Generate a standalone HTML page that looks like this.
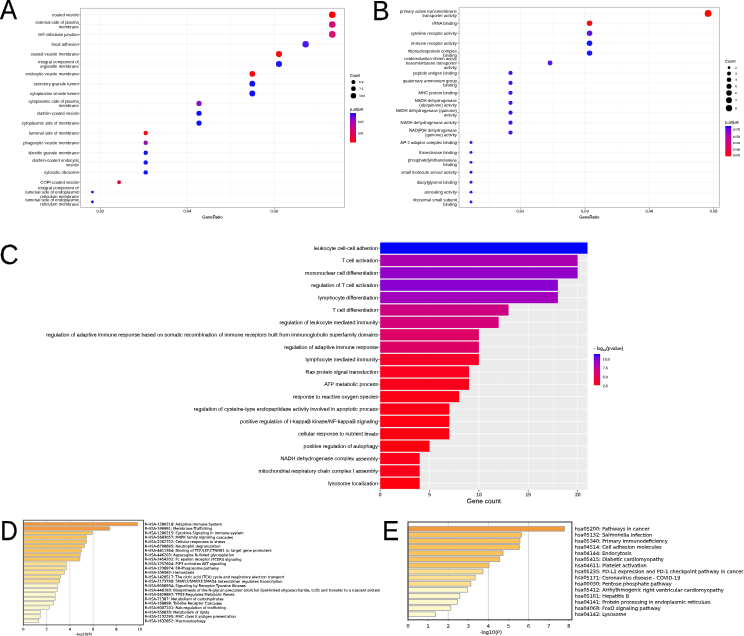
<!DOCTYPE html>
<html lang="en"><head><meta charset="utf-8"><title>Figure</title>
<style>
html,body{margin:0;padding:0;background:#fff}
body{width:744px;height:636px;overflow:hidden}
svg{display:block}
text{text-rendering:geometricPrecision}
text.s{stroke:#111;stroke-width:.1px;fill:#111}
text.l{font-family:"Liberation Sans",Arial,Helvetica,sans-serif}
text.d{font-family:"DejaVu Sans","Liberation Sans",sans-serif}
</style></head><body>
<svg width="744" height="636" viewBox="0 0 744 636">
<defs>
<linearGradient id="gRB" x1="0" y1="0" x2="0" y2="1">
<stop offset="0%" stop-color="#0000ff"/>
<stop offset="10%" stop-color="#6800e7"/>
<stop offset="20%" stop-color="#8d00ce"/>
<stop offset="30%" stop-color="#a600b7"/>
<stop offset="40%" stop-color="#ba009f"/>
<stop offset="50%" stop-color="#ca0088"/>
<stop offset="60%" stop-color="#d70072"/>
<stop offset="70%" stop-color="#e3005b"/>
<stop offset="80%" stop-color="#ed0044"/>
<stop offset="90%" stop-color="#f6002a"/>
<stop offset="100%" stop-color="#ff0000"/>
</linearGradient>
</defs>
<rect width="744" height="636" fill="#fff"/>
<text class="l" transform="translate(-0.10 19.10) scale(1.010 1.095)" font-size="25.20" fill="#000" stroke="#000" stroke-width="0.25">A</text>
<text class="l" transform="translate(372.20 19.50) scale(1.030 1.095)" font-size="25.20" fill="#000" stroke="#000" stroke-width="0.25">B</text>
<text class="l" transform="translate(-0.40 263.70) scale(1.050 1.095)" font-size="25.20" fill="#000" stroke="#000" stroke-width="0.25">C</text>
<text class="l" transform="translate(0.30 539.50) scale(0.965 1.095)" font-size="25.20" fill="#000" stroke="#000" stroke-width="0.25">D</text>
<text class="l" transform="translate(382.30 539.80) scale(1.000 1.095)" font-size="25.20" fill="#000" stroke="#000" stroke-width="0.25">E</text>
<line x1="143.80" y1="8.30" x2="143.80" y2="207.60" stroke="#f0f0f0" stroke-width="0.3"/>
<line x1="230.80" y1="8.30" x2="230.80" y2="207.60" stroke="#f0f0f0" stroke-width="0.3"/>
<line x1="317.80" y1="8.30" x2="317.80" y2="207.60" stroke="#f0f0f0" stroke-width="0.3"/>
<line x1="80.40" y1="14.70" x2="344.50" y2="14.70" stroke="#ebebeb" stroke-width="0.4"/>
<line x1="80.40" y1="24.55" x2="344.50" y2="24.55" stroke="#ebebeb" stroke-width="0.4"/>
<line x1="80.40" y1="34.41" x2="344.50" y2="34.41" stroke="#ebebeb" stroke-width="0.4"/>
<line x1="80.40" y1="44.27" x2="344.50" y2="44.27" stroke="#ebebeb" stroke-width="0.4"/>
<line x1="80.40" y1="54.12" x2="344.50" y2="54.12" stroke="#ebebeb" stroke-width="0.4"/>
<line x1="80.40" y1="63.98" x2="344.50" y2="63.98" stroke="#ebebeb" stroke-width="0.4"/>
<line x1="80.40" y1="73.83" x2="344.50" y2="73.83" stroke="#ebebeb" stroke-width="0.4"/>
<line x1="80.40" y1="83.69" x2="344.50" y2="83.69" stroke="#ebebeb" stroke-width="0.4"/>
<line x1="80.40" y1="93.54" x2="344.50" y2="93.54" stroke="#ebebeb" stroke-width="0.4"/>
<line x1="80.40" y1="103.40" x2="344.50" y2="103.40" stroke="#ebebeb" stroke-width="0.4"/>
<line x1="80.40" y1="113.25" x2="344.50" y2="113.25" stroke="#ebebeb" stroke-width="0.4"/>
<line x1="80.40" y1="123.11" x2="344.50" y2="123.11" stroke="#ebebeb" stroke-width="0.4"/>
<line x1="80.40" y1="132.96" x2="344.50" y2="132.96" stroke="#ebebeb" stroke-width="0.4"/>
<line x1="80.40" y1="142.81" x2="344.50" y2="142.81" stroke="#ebebeb" stroke-width="0.4"/>
<line x1="80.40" y1="152.67" x2="344.50" y2="152.67" stroke="#ebebeb" stroke-width="0.4"/>
<line x1="80.40" y1="162.53" x2="344.50" y2="162.53" stroke="#ebebeb" stroke-width="0.4"/>
<line x1="80.40" y1="172.38" x2="344.50" y2="172.38" stroke="#ebebeb" stroke-width="0.4"/>
<line x1="80.40" y1="182.23" x2="344.50" y2="182.23" stroke="#ebebeb" stroke-width="0.4"/>
<line x1="80.40" y1="192.09" x2="344.50" y2="192.09" stroke="#ebebeb" stroke-width="0.4"/>
<line x1="80.40" y1="201.94" x2="344.50" y2="201.94" stroke="#ebebeb" stroke-width="0.4"/>
<line x1="100.30" y1="8.30" x2="100.30" y2="207.60" stroke="#ebebeb" stroke-width="0.4"/>
<line x1="187.30" y1="8.30" x2="187.30" y2="207.60" stroke="#ebebeb" stroke-width="0.4"/>
<line x1="274.30" y1="8.30" x2="274.30" y2="207.60" stroke="#ebebeb" stroke-width="0.4"/>
<circle cx="332.30" cy="14.70" r="3.30" fill="#ff0000"/>
<circle cx="332.30" cy="24.55" r="3.30" fill="#cf1078"/>
<circle cx="332.30" cy="34.41" r="3.30" fill="#d41070"/>
<circle cx="305.64" cy="44.27" r="3.18" fill="#4a14ec"/>
<circle cx="278.99" cy="54.12" r="3.06" fill="#f80808"/>
<circle cx="278.99" cy="63.98" r="3.06" fill="#1818f8"/>
<circle cx="252.33" cy="73.83" r="2.92" fill="#f40814"/>
<circle cx="252.33" cy="83.69" r="2.92" fill="#1010fa"/>
<circle cx="252.33" cy="93.54" r="2.92" fill="#1010fa"/>
<circle cx="199.02" cy="103.40" r="2.61" fill="#8a10c0"/>
<circle cx="199.02" cy="113.25" r="2.61" fill="#1010fa"/>
<circle cx="199.02" cy="123.11" r="2.61" fill="#1010fa"/>
<circle cx="145.71" cy="132.96" r="2.21" fill="#f60810"/>
<circle cx="145.71" cy="142.81" r="2.21" fill="#9a10a8"/>
<circle cx="145.71" cy="152.67" r="2.21" fill="#1414fa"/>
<circle cx="145.71" cy="162.53" r="2.21" fill="#1c14f6"/>
<circle cx="145.71" cy="172.38" r="2.21" fill="#1010fa"/>
<circle cx="119.06" cy="182.23" r="1.92" fill="#e0083c"/>
<circle cx="92.40" cy="192.09" r="1.40" fill="#1010fa"/>
<circle cx="92.40" cy="201.94" r="1.40" fill="#1010fa"/>
<rect x="80.40" y="8.30" width="264.10" height="199.30" fill="none" stroke="#b4b4b4" stroke-width="0.75"/>
<line x1="78.80" y1="14.70" x2="80.40" y2="14.70" stroke="#333" stroke-width="0.4"/>
<text class="l" transform="translate(78.80 16.18) rotate(0.03)" font-size="4.24" text-anchor="end" fill="#1c1c1c" stroke="#1c1c1c" stroke-width="0.05">coated vesicle</text>
<line x1="78.80" y1="24.55" x2="80.40" y2="24.55" stroke="#333" stroke-width="0.4"/>
<text class="l" transform="translate(78.80 23.84) rotate(0.03)" font-size="4.24" text-anchor="end" fill="#1c1c1c" stroke="#1c1c1c" stroke-width="0.05">external side of plasma</text>
<text class="l" transform="translate(78.80 28.24) rotate(0.03)" font-size="4.24" text-anchor="end" fill="#1c1c1c" stroke="#1c1c1c" stroke-width="0.05">membrane</text>
<line x1="78.80" y1="34.41" x2="80.40" y2="34.41" stroke="#333" stroke-width="0.4"/>
<text class="l" transform="translate(78.80 35.89) rotate(0.03)" font-size="4.24" text-anchor="end" fill="#1c1c1c" stroke="#1c1c1c" stroke-width="0.05">cell-substrate junction</text>
<line x1="78.80" y1="44.27" x2="80.40" y2="44.27" stroke="#333" stroke-width="0.4"/>
<text class="l" transform="translate(78.80 45.75) rotate(0.03)" font-size="4.24" text-anchor="end" fill="#1c1c1c" stroke="#1c1c1c" stroke-width="0.05">focal adhesion</text>
<line x1="78.80" y1="54.12" x2="80.40" y2="54.12" stroke="#333" stroke-width="0.4"/>
<text class="l" transform="translate(78.80 55.60) rotate(0.03)" font-size="4.24" text-anchor="end" fill="#1c1c1c" stroke="#1c1c1c" stroke-width="0.05">coated vesicle membrane</text>
<line x1="78.80" y1="63.98" x2="80.40" y2="63.98" stroke="#333" stroke-width="0.4"/>
<text class="l" transform="translate(78.80 63.26) rotate(0.03)" font-size="4.24" text-anchor="end" fill="#1c1c1c" stroke="#1c1c1c" stroke-width="0.05">integral component of</text>
<text class="l" transform="translate(78.80 67.66) rotate(0.03)" font-size="4.24" text-anchor="end" fill="#1c1c1c" stroke="#1c1c1c" stroke-width="0.05">organelle membrane</text>
<line x1="78.80" y1="73.83" x2="80.40" y2="73.83" stroke="#333" stroke-width="0.4"/>
<text class="l" transform="translate(78.80 75.31) rotate(0.03)" font-size="4.24" text-anchor="end" fill="#1c1c1c" stroke="#1c1c1c" stroke-width="0.05">endocytic vesicle membrane</text>
<line x1="78.80" y1="83.69" x2="80.40" y2="83.69" stroke="#333" stroke-width="0.4"/>
<text class="l" transform="translate(78.80 85.17) rotate(0.03)" font-size="4.24" text-anchor="end" fill="#1c1c1c" stroke="#1c1c1c" stroke-width="0.05">secretory granule lumen</text>
<line x1="78.80" y1="93.54" x2="80.40" y2="93.54" stroke="#333" stroke-width="0.4"/>
<text class="l" transform="translate(78.80 95.02) rotate(0.03)" font-size="4.24" text-anchor="end" fill="#1c1c1c" stroke="#1c1c1c" stroke-width="0.05">cytoplasmic vesicle lumen</text>
<line x1="78.80" y1="103.40" x2="80.40" y2="103.40" stroke="#333" stroke-width="0.4"/>
<text class="l" transform="translate(78.80 102.68) rotate(0.03)" font-size="4.24" text-anchor="end" fill="#1c1c1c" stroke="#1c1c1c" stroke-width="0.05">cytoplasmic side of plasma</text>
<text class="l" transform="translate(78.80 107.08) rotate(0.03)" font-size="4.24" text-anchor="end" fill="#1c1c1c" stroke="#1c1c1c" stroke-width="0.05">membrane</text>
<line x1="78.80" y1="113.25" x2="80.40" y2="113.25" stroke="#333" stroke-width="0.4"/>
<text class="l" transform="translate(78.80 114.73) rotate(0.03)" font-size="4.24" text-anchor="end" fill="#1c1c1c" stroke="#1c1c1c" stroke-width="0.05">clathrin-coated vesicle</text>
<line x1="78.80" y1="123.11" x2="80.40" y2="123.11" stroke="#333" stroke-width="0.4"/>
<text class="l" transform="translate(78.80 124.59) rotate(0.03)" font-size="4.24" text-anchor="end" fill="#1c1c1c" stroke="#1c1c1c" stroke-width="0.05">cytoplasmic side of membrane</text>
<line x1="78.80" y1="132.96" x2="80.40" y2="132.96" stroke="#333" stroke-width="0.4"/>
<text class="l" transform="translate(78.80 134.44) rotate(0.03)" font-size="4.24" text-anchor="end" fill="#1c1c1c" stroke="#1c1c1c" stroke-width="0.05">lumenal side of membrane</text>
<line x1="78.80" y1="142.81" x2="80.40" y2="142.81" stroke="#333" stroke-width="0.4"/>
<text class="l" transform="translate(78.80 144.30) rotate(0.03)" font-size="4.24" text-anchor="end" fill="#1c1c1c" stroke="#1c1c1c" stroke-width="0.05">phagocytic vesicle membrane</text>
<line x1="78.80" y1="152.67" x2="80.40" y2="152.67" stroke="#333" stroke-width="0.4"/>
<text class="l" transform="translate(78.80 154.15) rotate(0.03)" font-size="4.24" text-anchor="end" fill="#1c1c1c" stroke="#1c1c1c" stroke-width="0.05">specific granule membrane</text>
<line x1="78.80" y1="162.53" x2="80.40" y2="162.53" stroke="#333" stroke-width="0.4"/>
<text class="l" transform="translate(78.80 161.81) rotate(0.03)" font-size="4.24" text-anchor="end" fill="#1c1c1c" stroke="#1c1c1c" stroke-width="0.05">clathrin-coated endocytic</text>
<text class="l" transform="translate(78.80 166.21) rotate(0.03)" font-size="4.24" text-anchor="end" fill="#1c1c1c" stroke="#1c1c1c" stroke-width="0.05">vesicle</text>
<line x1="78.80" y1="172.38" x2="80.40" y2="172.38" stroke="#333" stroke-width="0.4"/>
<text class="l" transform="translate(78.80 173.86) rotate(0.03)" font-size="4.24" text-anchor="end" fill="#1c1c1c" stroke="#1c1c1c" stroke-width="0.05">cytosolic ribosome</text>
<line x1="78.80" y1="182.23" x2="80.40" y2="182.23" stroke="#333" stroke-width="0.4"/>
<text class="l" transform="translate(78.80 183.72) rotate(0.03)" font-size="4.24" text-anchor="end" fill="#1c1c1c" stroke="#1c1c1c" stroke-width="0.05">COPI-coated vesicle</text>
<line x1="78.80" y1="192.09" x2="80.40" y2="192.09" stroke="#333" stroke-width="0.4"/>
<text class="l" transform="translate(78.80 189.17) rotate(0.03)" font-size="4.24" text-anchor="end" fill="#1c1c1c" stroke="#1c1c1c" stroke-width="0.05">integral component of</text>
<text class="l" transform="translate(78.80 193.57) rotate(0.03)" font-size="4.24" text-anchor="end" fill="#1c1c1c" stroke="#1c1c1c" stroke-width="0.05">lumenal side of endoplasmic</text>
<text class="l" transform="translate(78.80 197.97) rotate(0.03)" font-size="4.24" text-anchor="end" fill="#1c1c1c" stroke="#1c1c1c" stroke-width="0.05">reticulum membrane</text>
<line x1="78.80" y1="201.94" x2="80.40" y2="201.94" stroke="#333" stroke-width="0.4"/>
<text class="l" transform="translate(78.80 201.23) rotate(0.03)" font-size="4.24" text-anchor="end" fill="#1c1c1c" stroke="#1c1c1c" stroke-width="0.05">lumenal side of endoplasmic</text>
<text class="l" transform="translate(78.80 205.63) rotate(0.03)" font-size="4.24" text-anchor="end" fill="#1c1c1c" stroke="#1c1c1c" stroke-width="0.05">reticulum membrane</text>
<line x1="100.30" y1="207.60" x2="100.30" y2="209.20" stroke="#333" stroke-width="0.4"/>
<text class="l" transform="translate(100.30 212.50) rotate(0.03)" font-size="3.90" text-anchor="middle" fill="#333" stroke="#333" stroke-width="0.10">0.02</text>
<line x1="187.30" y1="207.60" x2="187.30" y2="209.20" stroke="#333" stroke-width="0.4"/>
<text class="l" transform="translate(187.30 212.50) rotate(0.03)" font-size="3.90" text-anchor="middle" fill="#333" stroke="#333" stroke-width="0.10">0.04</text>
<line x1="274.30" y1="207.60" x2="274.30" y2="209.20" stroke="#333" stroke-width="0.4"/>
<text class="l" transform="translate(274.30 212.50) rotate(0.03)" font-size="3.90" text-anchor="middle" fill="#333" stroke="#333" stroke-width="0.10">0.06</text>
<text class="l" transform="translate(212.45 218.40) rotate(0.03)" font-size="4.24" text-anchor="middle" fill="#111" stroke="#111" stroke-width="0.10">GeneRatio</text>
<text class="l" transform="translate(350.00 76.70) rotate(0.03)" font-size="3.80" text-anchor="start" fill="#111" stroke="#111" stroke-width="0.10">Count</text>
<circle cx="353.4" cy="82.10" r="2.06" fill="#000"/>
<text class="l" transform="translate(359.30 83.10) rotate(0.03)" font-size="2.85" text-anchor="start" fill="#222" stroke="#222" stroke-width="0.10">5.0</text>
<circle cx="353.4" cy="88.70" r="2.37" fill="#000"/>
<text class="l" transform="translate(359.30 89.70) rotate(0.03)" font-size="2.85" text-anchor="start" fill="#222" stroke="#222" stroke-width="0.10">7.5</text>
<circle cx="353.4" cy="95.70" r="2.75" fill="#000"/>
<text class="l" transform="translate(359.30 96.70) rotate(0.03)" font-size="2.85" text-anchor="start" fill="#222" stroke="#222" stroke-width="0.10">10.0</text>
<text class="l" transform="translate(350.00 110.40) rotate(0.03)" font-size="3.80" text-anchor="start" fill="#111" stroke="#111" stroke-width="0.10">p.adjust</text>
<rect x="350" y="113.1" width="6" height="29.4" fill="url(#gRB)"/>
<text class="l" transform="translate(358.00 122.80) rotate(0.03)" font-size="2.85" text-anchor="start" fill="#222" stroke="#222" stroke-width="0.10">0.02</text>
<text class="l" transform="translate(358.00 134.20) rotate(0.03)" font-size="2.85" text-anchor="start" fill="#222" stroke="#222" stroke-width="0.10">0.01</text>
<line x1="488.40" y1="7.30" x2="488.40" y2="207.60" stroke="#f0f0f0" stroke-width="0.3"/>
<line x1="552.80" y1="7.30" x2="552.80" y2="207.60" stroke="#f0f0f0" stroke-width="0.3"/>
<line x1="617.20" y1="7.30" x2="617.20" y2="207.60" stroke="#f0f0f0" stroke-width="0.3"/>
<line x1="681.60" y1="7.30" x2="681.60" y2="207.60" stroke="#f0f0f0" stroke-width="0.3"/>
<line x1="459.10" y1="13.40" x2="719.40" y2="13.40" stroke="#ebebeb" stroke-width="0.4"/>
<line x1="459.10" y1="23.33" x2="719.40" y2="23.33" stroke="#ebebeb" stroke-width="0.4"/>
<line x1="459.10" y1="33.26" x2="719.40" y2="33.26" stroke="#ebebeb" stroke-width="0.4"/>
<line x1="459.10" y1="43.19" x2="719.40" y2="43.19" stroke="#ebebeb" stroke-width="0.4"/>
<line x1="459.10" y1="53.12" x2="719.40" y2="53.12" stroke="#ebebeb" stroke-width="0.4"/>
<line x1="459.10" y1="63.05" x2="719.40" y2="63.05" stroke="#ebebeb" stroke-width="0.4"/>
<line x1="459.10" y1="72.98" x2="719.40" y2="72.98" stroke="#ebebeb" stroke-width="0.4"/>
<line x1="459.10" y1="82.91" x2="719.40" y2="82.91" stroke="#ebebeb" stroke-width="0.4"/>
<line x1="459.10" y1="92.84" x2="719.40" y2="92.84" stroke="#ebebeb" stroke-width="0.4"/>
<line x1="459.10" y1="102.77" x2="719.40" y2="102.77" stroke="#ebebeb" stroke-width="0.4"/>
<line x1="459.10" y1="112.70" x2="719.40" y2="112.70" stroke="#ebebeb" stroke-width="0.4"/>
<line x1="459.10" y1="122.63" x2="719.40" y2="122.63" stroke="#ebebeb" stroke-width="0.4"/>
<line x1="459.10" y1="132.56" x2="719.40" y2="132.56" stroke="#ebebeb" stroke-width="0.4"/>
<line x1="459.10" y1="142.49" x2="719.40" y2="142.49" stroke="#ebebeb" stroke-width="0.4"/>
<line x1="459.10" y1="152.42" x2="719.40" y2="152.42" stroke="#ebebeb" stroke-width="0.4"/>
<line x1="459.10" y1="162.35" x2="719.40" y2="162.35" stroke="#ebebeb" stroke-width="0.4"/>
<line x1="459.10" y1="172.28" x2="719.40" y2="172.28" stroke="#ebebeb" stroke-width="0.4"/>
<line x1="459.10" y1="182.21" x2="719.40" y2="182.21" stroke="#ebebeb" stroke-width="0.4"/>
<line x1="459.10" y1="192.14" x2="719.40" y2="192.14" stroke="#ebebeb" stroke-width="0.4"/>
<line x1="459.10" y1="202.07" x2="719.40" y2="202.07" stroke="#ebebeb" stroke-width="0.4"/>
<line x1="520.40" y1="7.30" x2="520.40" y2="207.60" stroke="#ebebeb" stroke-width="0.4"/>
<line x1="584.80" y1="7.30" x2="584.80" y2="207.60" stroke="#ebebeb" stroke-width="0.4"/>
<line x1="649.20" y1="7.30" x2="649.20" y2="207.60" stroke="#ebebeb" stroke-width="0.4"/>
<line x1="713.60" y1="7.30" x2="713.60" y2="207.60" stroke="#ebebeb" stroke-width="0.4"/>
<circle cx="708.07" cy="13.40" r="3.35" fill="#fa0808"/>
<circle cx="589.55" cy="23.33" r="2.74" fill="#f40a10"/>
<circle cx="589.55" cy="33.26" r="2.74" fill="#5c16dc"/>
<circle cx="589.55" cy="43.19" r="2.74" fill="#1414f8"/>
<circle cx="589.55" cy="53.12" r="2.74" fill="#1818f6"/>
<circle cx="550.04" cy="63.05" r="2.47" fill="#5a14dc"/>
<circle cx="510.53" cy="72.98" r="2.11" fill="#4c10e4"/>
<circle cx="510.53" cy="82.91" r="2.11" fill="#4c10e4"/>
<circle cx="510.53" cy="92.84" r="2.11" fill="#4c10e4"/>
<circle cx="510.53" cy="102.77" r="2.11" fill="#4c10e4"/>
<circle cx="510.53" cy="112.70" r="2.11" fill="#4c10e4"/>
<circle cx="510.53" cy="122.63" r="2.11" fill="#4c10e4"/>
<circle cx="510.53" cy="132.56" r="2.11" fill="#4c10e4"/>
<circle cx="471.02" cy="142.49" r="1.45" fill="#3c10ec"/>
<circle cx="471.02" cy="152.42" r="1.45" fill="#3c10ec"/>
<circle cx="471.02" cy="162.35" r="1.45" fill="#3c10ec"/>
<circle cx="471.02" cy="172.28" r="1.45" fill="#3c10ec"/>
<circle cx="471.02" cy="182.21" r="1.45" fill="#3c10ec"/>
<circle cx="471.02" cy="192.14" r="1.45" fill="#3c10ec"/>
<circle cx="471.02" cy="202.07" r="1.45" fill="#3c10ec"/>
<rect x="459.10" y="7.30" width="260.30" height="200.30" fill="none" stroke="#b4b4b4" stroke-width="0.75"/>
<line x1="457.50" y1="13.40" x2="459.10" y2="13.40" stroke="#333" stroke-width="0.4"/>
<text class="l" transform="translate(456.90 12.68) rotate(0.03)" font-size="4.24" text-anchor="end" fill="#1c1c1c" stroke="#1c1c1c" stroke-width="0.05">primary active transmembrane</text>
<text class="l" transform="translate(456.90 17.08) rotate(0.03)" font-size="4.24" text-anchor="end" fill="#1c1c1c" stroke="#1c1c1c" stroke-width="0.05">transporter activity</text>
<line x1="457.50" y1="23.33" x2="459.10" y2="23.33" stroke="#333" stroke-width="0.4"/>
<text class="l" transform="translate(456.90 24.81) rotate(0.03)" font-size="4.24" text-anchor="end" fill="#1c1c1c" stroke="#1c1c1c" stroke-width="0.05">rRNA binding</text>
<line x1="457.50" y1="33.26" x2="459.10" y2="33.26" stroke="#333" stroke-width="0.4"/>
<text class="l" transform="translate(456.90 34.74) rotate(0.03)" font-size="4.24" text-anchor="end" fill="#1c1c1c" stroke="#1c1c1c" stroke-width="0.05">cytokine receptor activity</text>
<line x1="457.50" y1="43.19" x2="459.10" y2="43.19" stroke="#333" stroke-width="0.4"/>
<text class="l" transform="translate(456.90 44.67) rotate(0.03)" font-size="4.24" text-anchor="end" fill="#1c1c1c" stroke="#1c1c1c" stroke-width="0.05">immune receptor activity</text>
<line x1="457.50" y1="53.12" x2="459.10" y2="53.12" stroke="#333" stroke-width="0.4"/>
<text class="l" transform="translate(456.90 52.40) rotate(0.03)" font-size="4.24" text-anchor="end" fill="#1c1c1c" stroke="#1c1c1c" stroke-width="0.05">ribonucleoprotein complex</text>
<text class="l" transform="translate(456.90 56.80) rotate(0.03)" font-size="4.24" text-anchor="end" fill="#1c1c1c" stroke="#1c1c1c" stroke-width="0.05">binding</text>
<line x1="457.50" y1="63.05" x2="459.10" y2="63.05" stroke="#333" stroke-width="0.4"/>
<text class="l" transform="translate(456.90 60.13) rotate(0.03)" font-size="4.24" text-anchor="end" fill="#1c1c1c" stroke="#1c1c1c" stroke-width="0.05">oxidoreduction-driven active</text>
<text class="l" transform="translate(456.90 64.53) rotate(0.03)" font-size="4.24" text-anchor="end" fill="#1c1c1c" stroke="#1c1c1c" stroke-width="0.05">transmembrane transporter</text>
<text class="l" transform="translate(456.90 68.93) rotate(0.03)" font-size="4.24" text-anchor="end" fill="#1c1c1c" stroke="#1c1c1c" stroke-width="0.05">activity</text>
<line x1="457.50" y1="72.98" x2="459.10" y2="72.98" stroke="#333" stroke-width="0.4"/>
<text class="l" transform="translate(456.90 74.46) rotate(0.03)" font-size="4.24" text-anchor="end" fill="#1c1c1c" stroke="#1c1c1c" stroke-width="0.05">peptide antigen binding</text>
<line x1="457.50" y1="82.91" x2="459.10" y2="82.91" stroke="#333" stroke-width="0.4"/>
<text class="l" transform="translate(456.90 82.19) rotate(0.03)" font-size="4.24" text-anchor="end" fill="#1c1c1c" stroke="#1c1c1c" stroke-width="0.05">quaternary ammonium group</text>
<text class="l" transform="translate(456.90 86.59) rotate(0.03)" font-size="4.24" text-anchor="end" fill="#1c1c1c" stroke="#1c1c1c" stroke-width="0.05">binding</text>
<line x1="457.50" y1="92.84" x2="459.10" y2="92.84" stroke="#333" stroke-width="0.4"/>
<text class="l" transform="translate(456.90 94.32) rotate(0.03)" font-size="4.24" text-anchor="end" fill="#1c1c1c" stroke="#1c1c1c" stroke-width="0.05">MHC protein binding</text>
<line x1="457.50" y1="102.77" x2="459.10" y2="102.77" stroke="#333" stroke-width="0.4"/>
<text class="l" transform="translate(456.90 102.05) rotate(0.03)" font-size="4.24" text-anchor="end" fill="#1c1c1c" stroke="#1c1c1c" stroke-width="0.05">NADH dehydrogenase</text>
<text class="l" transform="translate(456.90 106.45) rotate(0.03)" font-size="4.24" text-anchor="end" fill="#1c1c1c" stroke="#1c1c1c" stroke-width="0.05">(ubiquinone) activity</text>
<line x1="457.50" y1="112.70" x2="459.10" y2="112.70" stroke="#333" stroke-width="0.4"/>
<text class="l" transform="translate(456.90 111.98) rotate(0.03)" font-size="4.24" text-anchor="end" fill="#1c1c1c" stroke="#1c1c1c" stroke-width="0.05">NADH dehydrogenase (quinone)</text>
<text class="l" transform="translate(456.90 116.38) rotate(0.03)" font-size="4.24" text-anchor="end" fill="#1c1c1c" stroke="#1c1c1c" stroke-width="0.05">activity</text>
<line x1="457.50" y1="122.63" x2="459.10" y2="122.63" stroke="#333" stroke-width="0.4"/>
<text class="l" transform="translate(456.90 124.11) rotate(0.03)" font-size="4.24" text-anchor="end" fill="#1c1c1c" stroke="#1c1c1c" stroke-width="0.05">NADH dehydrogenase activity</text>
<line x1="457.50" y1="132.56" x2="459.10" y2="132.56" stroke="#333" stroke-width="0.4"/>
<text class="l" transform="translate(456.90 131.84) rotate(0.03)" font-size="4.24" text-anchor="end" fill="#1c1c1c" stroke="#1c1c1c" stroke-width="0.05">NAD(P)H dehydrogenase</text>
<text class="l" transform="translate(456.90 136.24) rotate(0.03)" font-size="4.24" text-anchor="end" fill="#1c1c1c" stroke="#1c1c1c" stroke-width="0.05">(quinone) activity</text>
<line x1="457.50" y1="142.49" x2="459.10" y2="142.49" stroke="#333" stroke-width="0.4"/>
<text class="l" transform="translate(456.90 143.97) rotate(0.03)" font-size="4.24" text-anchor="end" fill="#1c1c1c" stroke="#1c1c1c" stroke-width="0.05">AP-2 adaptor complex binding</text>
<line x1="457.50" y1="152.42" x2="459.10" y2="152.42" stroke="#333" stroke-width="0.4"/>
<text class="l" transform="translate(456.90 153.90) rotate(0.03)" font-size="4.24" text-anchor="end" fill="#1c1c1c" stroke="#1c1c1c" stroke-width="0.05">thioesterase binding</text>
<line x1="457.50" y1="162.35" x2="459.10" y2="162.35" stroke="#333" stroke-width="0.4"/>
<text class="l" transform="translate(456.90 161.63) rotate(0.03)" font-size="4.24" text-anchor="end" fill="#1c1c1c" stroke="#1c1c1c" stroke-width="0.05">phosphatidylethanolamine</text>
<text class="l" transform="translate(456.90 166.03) rotate(0.03)" font-size="4.24" text-anchor="end" fill="#1c1c1c" stroke="#1c1c1c" stroke-width="0.05">binding</text>
<line x1="457.50" y1="172.28" x2="459.10" y2="172.28" stroke="#333" stroke-width="0.4"/>
<text class="l" transform="translate(456.90 173.76) rotate(0.03)" font-size="4.24" text-anchor="end" fill="#1c1c1c" stroke="#1c1c1c" stroke-width="0.05">small molecule sensor activity</text>
<line x1="457.50" y1="182.21" x2="459.10" y2="182.21" stroke="#333" stroke-width="0.4"/>
<text class="l" transform="translate(456.90 183.69) rotate(0.03)" font-size="4.24" text-anchor="end" fill="#1c1c1c" stroke="#1c1c1c" stroke-width="0.05">diacylglycerol binding</text>
<line x1="457.50" y1="192.14" x2="459.10" y2="192.14" stroke="#333" stroke-width="0.4"/>
<text class="l" transform="translate(456.90 193.62) rotate(0.03)" font-size="4.24" text-anchor="end" fill="#1c1c1c" stroke="#1c1c1c" stroke-width="0.05">annealing activity</text>
<line x1="457.50" y1="202.07" x2="459.10" y2="202.07" stroke="#333" stroke-width="0.4"/>
<text class="l" transform="translate(456.90 201.35) rotate(0.03)" font-size="4.24" text-anchor="end" fill="#1c1c1c" stroke="#1c1c1c" stroke-width="0.05">ribosomal small subunit</text>
<text class="l" transform="translate(456.90 205.75) rotate(0.03)" font-size="4.24" text-anchor="end" fill="#1c1c1c" stroke="#1c1c1c" stroke-width="0.05">binding</text>
<line x1="520.40" y1="207.60" x2="520.40" y2="209.20" stroke="#333" stroke-width="0.4"/>
<text class="l" transform="translate(520.40 212.50) rotate(0.03)" font-size="3.90" text-anchor="middle" fill="#333" stroke="#333" stroke-width="0.10">0.02</text>
<line x1="584.80" y1="207.60" x2="584.80" y2="209.20" stroke="#333" stroke-width="0.4"/>
<text class="l" transform="translate(584.80 212.50) rotate(0.03)" font-size="3.90" text-anchor="middle" fill="#333" stroke="#333" stroke-width="0.10">0.03</text>
<line x1="649.20" y1="207.60" x2="649.20" y2="209.20" stroke="#333" stroke-width="0.4"/>
<text class="l" transform="translate(649.20 212.50) rotate(0.03)" font-size="3.90" text-anchor="middle" fill="#333" stroke="#333" stroke-width="0.10">0.04</text>
<line x1="713.60" y1="207.60" x2="713.60" y2="209.20" stroke="#333" stroke-width="0.4"/>
<text class="l" transform="translate(713.60 212.50) rotate(0.03)" font-size="3.90" text-anchor="middle" fill="#333" stroke="#333" stroke-width="0.10">0.05</text>
<text class="l" transform="translate(589.25 218.40) rotate(0.03)" font-size="4.24" text-anchor="middle" fill="#111" stroke="#111" stroke-width="0.10">GeneRatio</text>
<text class="l" transform="translate(725.30 62.50) rotate(0.03)" font-size="3.80" text-anchor="start" fill="#111" stroke="#111" stroke-width="0.10">Count</text>
<circle cx="729" cy="67.70" r="1.35" fill="#000"/>
<text class="l" transform="translate(735.20 68.65) rotate(0.03)" font-size="2.80" text-anchor="start" fill="#222" stroke="#222" stroke-width="0.10">2</text>
<circle cx="729" cy="73.50" r="1.96" fill="#000"/>
<text class="l" transform="translate(735.20 74.45) rotate(0.03)" font-size="2.80" text-anchor="start" fill="#222" stroke="#222" stroke-width="0.10">3</text>
<circle cx="729" cy="79.80" r="2.29" fill="#000"/>
<text class="l" transform="translate(735.20 80.75) rotate(0.03)" font-size="2.80" text-anchor="start" fill="#222" stroke="#222" stroke-width="0.10">4</text>
<circle cx="729" cy="86.20" r="2.55" fill="#000"/>
<text class="l" transform="translate(735.20 87.15) rotate(0.03)" font-size="2.80" text-anchor="start" fill="#222" stroke="#222" stroke-width="0.10">5</text>
<circle cx="729" cy="93.00" r="2.76" fill="#000"/>
<text class="l" transform="translate(735.20 93.95) rotate(0.03)" font-size="2.80" text-anchor="start" fill="#222" stroke="#222" stroke-width="0.10">6</text>
<circle cx="729" cy="100.30" r="2.95" fill="#000"/>
<text class="l" transform="translate(735.20 101.25) rotate(0.03)" font-size="2.80" text-anchor="start" fill="#222" stroke="#222" stroke-width="0.10">7</text>
<circle cx="729" cy="108.20" r="3.12" fill="#000"/>
<text class="l" transform="translate(735.20 109.15) rotate(0.03)" font-size="2.80" text-anchor="start" fill="#222" stroke="#222" stroke-width="0.10">8</text>
<text class="l" transform="translate(725.30 123.60) rotate(0.03)" font-size="3.80" text-anchor="start" fill="#111" stroke="#111" stroke-width="0.10">p.adjust</text>
<rect x="725.3" y="126" width="5.9" height="30.3" fill="url(#gRB)"/>
<text class="l" transform="translate(733.00 130.55) rotate(0.03)" font-size="2.80" text-anchor="start" fill="#222" stroke="#222" stroke-width="0.10">0.175</text>
<text class="l" transform="translate(733.00 137.75) rotate(0.03)" font-size="2.80" text-anchor="start" fill="#222" stroke="#222" stroke-width="0.10">0.150</text>
<text class="l" transform="translate(733.00 144.05) rotate(0.03)" font-size="2.80" text-anchor="start" fill="#222" stroke="#222" stroke-width="0.10">0.125</text>
<text class="l" transform="translate(733.00 150.45) rotate(0.03)" font-size="2.80" text-anchor="start" fill="#222" stroke="#222" stroke-width="0.10">0.100</text>
<text class="l" transform="translate(733.00 156.35) rotate(0.03)" font-size="2.80" text-anchor="start" fill="#222" stroke="#222" stroke-width="0.10">0.075</text>
<rect x="380.20" y="241.00" width="207.30" height="248.80" fill="#ebebeb"/>
<line x1="404.88" y1="241.00" x2="404.88" y2="489.80" stroke="#f5f5f5" stroke-width="0.35"/>
<line x1="454.24" y1="241.00" x2="454.24" y2="489.80" stroke="#f5f5f5" stroke-width="0.35"/>
<line x1="503.59" y1="241.00" x2="503.59" y2="489.80" stroke="#f5f5f5" stroke-width="0.35"/>
<line x1="552.95" y1="241.00" x2="552.95" y2="489.80" stroke="#f5f5f5" stroke-width="0.35"/>
<line x1="429.56" y1="241.00" x2="429.56" y2="489.80" stroke="#fff" stroke-width="0.6"/>
<line x1="478.91" y1="241.00" x2="478.91" y2="489.80" stroke="#fff" stroke-width="0.6"/>
<line x1="528.27" y1="241.00" x2="528.27" y2="489.80" stroke="#fff" stroke-width="0.6"/>
<line x1="577.63" y1="241.00" x2="577.63" y2="489.80" stroke="#fff" stroke-width="0.6"/>
<line x1="380.20" y1="248.10" x2="587.50" y2="248.10" stroke="#fff" stroke-width="0.6"/>
<line x1="380.20" y1="260.48" x2="587.50" y2="260.48" stroke="#fff" stroke-width="0.6"/>
<line x1="380.20" y1="272.86" x2="587.50" y2="272.86" stroke="#fff" stroke-width="0.6"/>
<line x1="380.20" y1="285.24" x2="587.50" y2="285.24" stroke="#fff" stroke-width="0.6"/>
<line x1="380.20" y1="297.62" x2="587.50" y2="297.62" stroke="#fff" stroke-width="0.6"/>
<line x1="380.20" y1="309.99" x2="587.50" y2="309.99" stroke="#fff" stroke-width="0.6"/>
<line x1="380.20" y1="322.37" x2="587.50" y2="322.37" stroke="#fff" stroke-width="0.6"/>
<line x1="380.20" y1="334.75" x2="587.50" y2="334.75" stroke="#fff" stroke-width="0.6"/>
<line x1="380.20" y1="347.13" x2="587.50" y2="347.13" stroke="#fff" stroke-width="0.6"/>
<line x1="380.20" y1="359.51" x2="587.50" y2="359.51" stroke="#fff" stroke-width="0.6"/>
<line x1="380.20" y1="371.89" x2="587.50" y2="371.89" stroke="#fff" stroke-width="0.6"/>
<line x1="380.20" y1="384.27" x2="587.50" y2="384.27" stroke="#fff" stroke-width="0.6"/>
<line x1="380.20" y1="396.65" x2="587.50" y2="396.65" stroke="#fff" stroke-width="0.6"/>
<line x1="380.20" y1="409.03" x2="587.50" y2="409.03" stroke="#fff" stroke-width="0.6"/>
<line x1="380.20" y1="421.41" x2="587.50" y2="421.41" stroke="#fff" stroke-width="0.6"/>
<line x1="380.20" y1="433.78" x2="587.50" y2="433.78" stroke="#fff" stroke-width="0.6"/>
<line x1="380.20" y1="446.16" x2="587.50" y2="446.16" stroke="#fff" stroke-width="0.6"/>
<line x1="380.20" y1="458.54" x2="587.50" y2="458.54" stroke="#fff" stroke-width="0.6"/>
<line x1="380.20" y1="470.92" x2="587.50" y2="470.92" stroke="#fff" stroke-width="0.6"/>
<line x1="380.20" y1="483.30" x2="587.50" y2="483.30" stroke="#fff" stroke-width="0.6"/>
<rect x="380.20" y="242.53" width="207.30" height="11.15" fill="#0000ff"/>
<line x1="378.40" y1="248.10" x2="380.20" y2="248.10" stroke="#333" stroke-width="0.55"/>
<text class="l" transform="translate(377.90 249.95) rotate(0.03)" font-size="5.27" text-anchor="end" fill="#000" stroke="#000" stroke-width="0.06">leukocyte cell-cell adhesion</text>
<rect x="380.20" y="254.90" width="197.43" height="11.15" fill="#ac00b0"/>
<line x1="378.40" y1="260.48" x2="380.20" y2="260.48" stroke="#333" stroke-width="0.55"/>
<text class="l" transform="translate(377.90 262.33) rotate(0.03)" font-size="5.27" text-anchor="end" fill="#000" stroke="#000" stroke-width="0.06">T cell activation</text>
<rect x="380.20" y="267.28" width="197.43" height="11.15" fill="#9200ca"/>
<line x1="378.40" y1="272.86" x2="380.20" y2="272.86" stroke="#333" stroke-width="0.55"/>
<text class="l" transform="translate(377.90 274.71) rotate(0.03)" font-size="5.27" text-anchor="end" fill="#000" stroke="#000" stroke-width="0.06">mononuclear cell differentiation</text>
<rect x="380.20" y="279.66" width="177.69" height="11.15" fill="#8a00d1"/>
<line x1="378.40" y1="285.24" x2="380.20" y2="285.24" stroke="#333" stroke-width="0.55"/>
<text class="l" transform="translate(377.90 287.09) rotate(0.03)" font-size="5.27" text-anchor="end" fill="#000" stroke="#000" stroke-width="0.06">regulation of T cell activation</text>
<rect x="380.20" y="292.04" width="177.69" height="11.15" fill="#a200bb"/>
<line x1="378.40" y1="297.62" x2="380.20" y2="297.62" stroke="#333" stroke-width="0.55"/>
<text class="l" transform="translate(377.90 299.47) rotate(0.03)" font-size="5.27" text-anchor="end" fill="#000" stroke="#000" stroke-width="0.06">lymphocyte differentiation</text>
<rect x="380.20" y="304.42" width="128.33" height="11.15" fill="#ce0082"/>
<line x1="378.40" y1="309.99" x2="380.20" y2="309.99" stroke="#333" stroke-width="0.55"/>
<text class="l" transform="translate(377.90 311.84) rotate(0.03)" font-size="5.27" text-anchor="end" fill="#000" stroke="#000" stroke-width="0.06">T cell differentiation</text>
<rect x="380.20" y="316.80" width="118.46" height="11.15" fill="#d30079"/>
<line x1="378.40" y1="322.37" x2="380.20" y2="322.37" stroke="#333" stroke-width="0.55"/>
<text class="l" transform="translate(377.90 324.22) rotate(0.03)" font-size="5.27" text-anchor="end" fill="#000" stroke="#000" stroke-width="0.06">regulation of leukocyte mediated immunity</text>
<rect x="380.20" y="329.18" width="98.71" height="11.15" fill="#de0064"/>
<line x1="378.40" y1="334.75" x2="380.20" y2="334.75" stroke="#333" stroke-width="0.55"/>
<text class="l" transform="translate(377.90 336.60) rotate(0.03)" font-size="5.27" text-anchor="end" fill="#000" stroke="#000" stroke-width="0.06">regulation of adaptive immune response based on somatic recombination of immune receptors built from immunoglobulin superfamily domains</text>
<rect x="380.20" y="341.56" width="98.71" height="11.15" fill="#de0064"/>
<line x1="378.40" y1="347.13" x2="380.20" y2="347.13" stroke="#333" stroke-width="0.55"/>
<text class="l" transform="translate(377.90 348.98) rotate(0.03)" font-size="5.27" text-anchor="end" fill="#000" stroke="#000" stroke-width="0.06">regulation of adaptive immune response</text>
<rect x="380.20" y="353.94" width="98.71" height="11.15" fill="#f6002a"/>
<line x1="378.40" y1="359.51" x2="380.20" y2="359.51" stroke="#333" stroke-width="0.55"/>
<text class="l" transform="translate(377.90 361.36) rotate(0.03)" font-size="5.27" text-anchor="end" fill="#000" stroke="#000" stroke-width="0.06">lymphocyte mediated immunity</text>
<rect x="380.20" y="366.31" width="88.84" height="11.15" fill="#fa001e"/>
<line x1="378.40" y1="371.89" x2="380.20" y2="371.89" stroke="#333" stroke-width="0.55"/>
<text class="l" transform="translate(377.90 373.74) rotate(0.03)" font-size="5.27" text-anchor="end" fill="#000" stroke="#000" stroke-width="0.06">Ras protein signal transduction</text>
<rect x="380.20" y="378.69" width="88.84" height="11.15" fill="#fb001a"/>
<line x1="378.40" y1="384.27" x2="380.20" y2="384.27" stroke="#333" stroke-width="0.55"/>
<text class="l" transform="translate(377.90 386.12) rotate(0.03)" font-size="5.27" text-anchor="end" fill="#000" stroke="#000" stroke-width="0.06">ATP metabolic process</text>
<rect x="380.20" y="391.07" width="78.97" height="11.15" fill="#fc0016"/>
<line x1="378.40" y1="396.65" x2="380.20" y2="396.65" stroke="#333" stroke-width="0.55"/>
<text class="l" transform="translate(377.90 398.50) rotate(0.03)" font-size="5.27" text-anchor="end" fill="#000" stroke="#000" stroke-width="0.06">response to reactive oxygen species</text>
<rect x="380.20" y="403.45" width="69.10" height="11.15" fill="#fc0016"/>
<line x1="378.40" y1="409.03" x2="380.20" y2="409.03" stroke="#333" stroke-width="0.55"/>
<text class="l" transform="translate(377.90 410.88) rotate(0.03)" font-size="5.27" text-anchor="end" fill="#000" stroke="#000" stroke-width="0.06">regulation of cysteine-type endopeptidase activity involved in apoptotic process</text>
<rect x="380.20" y="415.83" width="69.10" height="11.15" fill="#fc0012"/>
<line x1="378.40" y1="421.41" x2="380.20" y2="421.41" stroke="#333" stroke-width="0.55"/>
<text class="l" transform="translate(377.90 423.26) rotate(0.03)" font-size="5.27" text-anchor="end" fill="#000" stroke="#000" stroke-width="0.06">positive regulation of I-kappaB kinase/NF-kappaB signaling</text>
<rect x="380.20" y="428.21" width="69.10" height="11.15" fill="#fc0012"/>
<line x1="378.40" y1="433.78" x2="380.20" y2="433.78" stroke="#333" stroke-width="0.55"/>
<text class="l" transform="translate(377.90 435.63) rotate(0.03)" font-size="5.27" text-anchor="end" fill="#000" stroke="#000" stroke-width="0.06">cellular response to nutrient levels</text>
<rect x="380.20" y="440.59" width="49.36" height="11.15" fill="#fd000d"/>
<line x1="378.40" y1="446.16" x2="380.20" y2="446.16" stroke="#333" stroke-width="0.55"/>
<text class="l" transform="translate(377.90 448.01) rotate(0.03)" font-size="5.27" text-anchor="end" fill="#000" stroke="#000" stroke-width="0.06">positive regulation of autophagy</text>
<rect x="380.20" y="452.97" width="39.49" height="11.15" fill="#fb001a"/>
<line x1="378.40" y1="458.54" x2="380.20" y2="458.54" stroke="#333" stroke-width="0.55"/>
<text class="l" transform="translate(377.90 460.39) rotate(0.03)" font-size="5.27" text-anchor="end" fill="#000" stroke="#000" stroke-width="0.06">NADH dehydrogenase complex assembly</text>
<rect x="380.20" y="465.35" width="39.49" height="11.15" fill="#fb001a"/>
<line x1="378.40" y1="470.92" x2="380.20" y2="470.92" stroke="#333" stroke-width="0.55"/>
<text class="l" transform="translate(377.90 472.77) rotate(0.03)" font-size="5.27" text-anchor="end" fill="#000" stroke="#000" stroke-width="0.06">mitochondrial respiratory chain complex I assembly</text>
<rect x="380.20" y="477.73" width="39.49" height="11.15" fill="#fd000d"/>
<line x1="378.40" y1="483.30" x2="380.20" y2="483.30" stroke="#333" stroke-width="0.55"/>
<text class="l" transform="translate(377.90 485.15) rotate(0.03)" font-size="5.27" text-anchor="end" fill="#000" stroke="#000" stroke-width="0.06">lysosome localization</text>
<line x1="380.20" y1="489.80" x2="380.20" y2="491.80" stroke="#333" stroke-width="0.6"/>
<text class="l" transform="translate(380.20 496.30) rotate(0.03)" font-size="4.90" text-anchor="middle" fill="#222" stroke="#222" stroke-width="0.10">0</text>
<line x1="429.56" y1="489.80" x2="429.56" y2="491.80" stroke="#333" stroke-width="0.6"/>
<text class="l" transform="translate(429.56 496.30) rotate(0.03)" font-size="4.90" text-anchor="middle" fill="#222" stroke="#222" stroke-width="0.10">5</text>
<line x1="478.91" y1="489.80" x2="478.91" y2="491.80" stroke="#333" stroke-width="0.6"/>
<text class="l" transform="translate(478.91 496.30) rotate(0.03)" font-size="4.90" text-anchor="middle" fill="#222" stroke="#222" stroke-width="0.10">10</text>
<line x1="528.27" y1="489.80" x2="528.27" y2="491.80" stroke="#333" stroke-width="0.6"/>
<text class="l" transform="translate(528.27 496.30) rotate(0.03)" font-size="4.90" text-anchor="middle" fill="#222" stroke="#222" stroke-width="0.10">15</text>
<line x1="577.63" y1="489.80" x2="577.63" y2="491.80" stroke="#333" stroke-width="0.6"/>
<text class="l" transform="translate(577.63 496.30) rotate(0.03)" font-size="4.90" text-anchor="middle" fill="#222" stroke="#222" stroke-width="0.10">20</text>
<text class="l" transform="translate(483.90 503.20) rotate(0.03)" font-size="6.60" text-anchor="middle" fill="#111" stroke="#111" stroke-width="0.10">Gene count</text>
<text class="l s" transform="translate(593.8 349.9) rotate(0.03)" font-size="4.7">- log<tspan font-size="3" dy="1">10</tspan><tspan dy="-1">(pvalue)</tspan></text>
<rect x="593.8" y="354" width="6.3" height="31.2" fill="url(#gRB)"/>
<text class="l" transform="translate(602.80 360.45) rotate(0.03)" font-size="3.65" text-anchor="start" fill="#222" stroke="#222" stroke-width="0.10">10.0</text>
<text class="l" transform="translate(602.80 369.25) rotate(0.03)" font-size="3.65" text-anchor="start" fill="#222" stroke="#222" stroke-width="0.10">7.5</text>
<text class="l" transform="translate(602.80 378.35) rotate(0.03)" font-size="3.65" text-anchor="start" fill="#222" stroke="#222" stroke-width="0.10">5.0</text>
<text class="l" transform="translate(602.80 387.15) rotate(0.03)" font-size="3.65" text-anchor="start" fill="#222" stroke="#222" stroke-width="0.10">2.5</text>
<rect x="23.30" y="520.20" width="120.10" height="104.70" fill="#fff"/>
<line x1="46.60" y1="520.20" x2="46.60" y2="624.90" stroke="#bcbcbc" stroke-width="0.45"/>
<line x1="69.90" y1="520.20" x2="69.90" y2="624.90" stroke="#bcbcbc" stroke-width="0.45"/>
<line x1="93.20" y1="520.20" x2="93.20" y2="624.90" stroke="#bcbcbc" stroke-width="0.45"/>
<rect x="23.30" y="522.35" width="114.17" height="3.50" fill="#f4993e" stroke="#9e9e9e" stroke-width="0.56"/>
<text class="d" transform="translate(144.80 525.39) rotate(0.03)" font-size="3.60" text-anchor="start" fill="#111" stroke="#111" stroke-width="0.10">R-HSA-1280218: Adaptive Immune System</text>
<rect x="23.30" y="526.75" width="86.44" height="3.50" fill="#f4993e" stroke="#9e9e9e" stroke-width="0.56"/>
<text class="d" transform="translate(144.80 529.79) rotate(0.03)" font-size="3.60" text-anchor="start" fill="#111" stroke="#111" stroke-width="0.10">R-HSA-199991: Membrane Trafficking</text>
<rect x="23.30" y="531.15" width="68.97" height="3.50" fill="#fbc25b" stroke="#9e9e9e" stroke-width="0.56"/>
<text class="d" transform="translate(144.80 534.19) rotate(0.03)" font-size="3.60" text-anchor="start" fill="#111" stroke="#111" stroke-width="0.10">R-HSA-1280215: Cytokine Signaling in Immune system</text>
<rect x="23.30" y="535.55" width="63.14" height="3.50" fill="#fbc25b" stroke="#9e9e9e" stroke-width="0.56"/>
<text class="d" transform="translate(144.80 538.59) rotate(0.03)" font-size="3.60" text-anchor="start" fill="#111" stroke="#111" stroke-width="0.10">R-HSA-5683057: MAPK family signaling cascades</text>
<rect x="23.30" y="539.95" width="63.14" height="3.50" fill="#fbc25b" stroke="#9e9e9e" stroke-width="0.56"/>
<text class="d" transform="translate(144.80 542.99) rotate(0.03)" font-size="3.60" text-anchor="start" fill="#111" stroke="#111" stroke-width="0.10">R-HSA-2262752: Cellular responses to stress</text>
<rect x="23.30" y="544.35" width="61.05" height="3.50" fill="#fbc25b" stroke="#9e9e9e" stroke-width="0.56"/>
<text class="d" transform="translate(144.80 547.39) rotate(0.03)" font-size="3.60" text-anchor="start" fill="#111" stroke="#111" stroke-width="0.10">R-HSA-6798695: Neutrophil degranulation</text>
<rect x="23.30" y="548.75" width="58.13" height="3.50" fill="#fbc25b" stroke="#9e9e9e" stroke-width="0.56"/>
<text class="d" transform="translate(144.80 551.79) rotate(0.03)" font-size="3.60" text-anchor="start" fill="#111" stroke="#111" stroke-width="0.10">R-HSA-4411364: Binding of TCF/LEF:CTNNB1 to target gene promoters</text>
<rect x="23.30" y="553.15" width="56.97" height="3.50" fill="#fbc25b" stroke="#9e9e9e" stroke-width="0.56"/>
<text class="d" transform="translate(144.80 556.19) rotate(0.03)" font-size="3.60" text-anchor="start" fill="#111" stroke="#111" stroke-width="0.10">R-HSA-446203: Asparagine N-linked glycosylation</text>
<rect x="23.30" y="557.55" width="56.62" height="3.50" fill="#fbc25b" stroke="#9e9e9e" stroke-width="0.56"/>
<text class="d" transform="translate(144.80 560.59) rotate(0.03)" font-size="3.60" text-anchor="start" fill="#111" stroke="#111" stroke-width="0.10">R-HSA-2454202: Fc epsilon receptor (FCERI) signaling</text>
<rect x="23.30" y="561.95" width="43.22" height="3.50" fill="#fddf8d" stroke="#9e9e9e" stroke-width="0.56"/>
<text class="d" transform="translate(144.80 564.99) rotate(0.03)" font-size="3.60" text-anchor="start" fill="#111" stroke="#111" stroke-width="0.10">R-HSA-1257604: PIP3 activates AKT signaling</text>
<rect x="23.30" y="566.35" width="43.22" height="3.50" fill="#fddf8d" stroke="#9e9e9e" stroke-width="0.56"/>
<text class="d" transform="translate(144.80 569.39) rotate(0.03)" font-size="3.60" text-anchor="start" fill="#111" stroke="#111" stroke-width="0.10">R-HSA-1236974: ER-Phagosome pathway</text>
<rect x="23.30" y="570.75" width="41.12" height="3.50" fill="#fddf8d" stroke="#9e9e9e" stroke-width="0.56"/>
<text class="d" transform="translate(144.80 573.79) rotate(0.03)" font-size="3.60" text-anchor="start" fill="#111" stroke="#111" stroke-width="0.10">R-HSA-109582: Hemostasis</text>
<rect x="23.30" y="575.15" width="37.28" height="3.50" fill="#fddf8d" stroke="#9e9e9e" stroke-width="0.56"/>
<text class="d" transform="translate(144.80 578.19) rotate(0.03)" font-size="3.60" text-anchor="start" fill="#111" stroke="#111" stroke-width="0.10">R-HSA-1428517: The citric acid (TCA) cycle and respiratory electron transport</text>
<rect x="23.30" y="579.55" width="36.23" height="3.50" fill="#fddf8d" stroke="#9e9e9e" stroke-width="0.56"/>
<text class="d" transform="translate(144.80 582.59) rotate(0.03)" font-size="3.60" text-anchor="start" fill="#111" stroke="#111" stroke-width="0.10">R-HSA-2173796: SMAD2/SMAD3:SMAD4 heterotrimer regulates transcription</text>
<rect x="23.30" y="583.95" width="34.60" height="3.50" fill="#fdf7cc" stroke="#9e9e9e" stroke-width="0.56"/>
<text class="d" transform="translate(144.80 586.99) rotate(0.03)" font-size="3.60" text-anchor="start" fill="#111" stroke="#111" stroke-width="0.10">R-HSA-9006934: Signaling by Receptor Tyrosine Kinases</text>
<rect x="23.30" y="588.35" width="34.13" height="3.50" fill="#fdf7cc" stroke="#9e9e9e" stroke-width="0.56"/>
<text class="d" transform="translate(144.80 591.39) rotate(0.03)" font-size="3.60" text-anchor="start" fill="#111" stroke="#111" stroke-width="0.10">R-HSA-446193: Biosynthesis of the N-glycan precursor (dolichol lipid-linked oligosaccharide, LLO) and transfer to a nascent protein</text>
<rect x="23.30" y="592.75" width="31.92" height="3.50" fill="#fdf7cc" stroke="#9e9e9e" stroke-width="0.56"/>
<text class="d" transform="translate(144.80 595.79) rotate(0.03)" font-size="3.60" text-anchor="start" fill="#111" stroke="#111" stroke-width="0.10">R-HSA-5628897: TP53 Regulates Metabolic Genes</text>
<rect x="23.30" y="597.15" width="31.92" height="3.50" fill="#fdf7cc" stroke="#9e9e9e" stroke-width="0.56"/>
<text class="d" transform="translate(144.80 600.19) rotate(0.03)" font-size="3.60" text-anchor="start" fill="#111" stroke="#111" stroke-width="0.10">R-HSA-71387: Metabolism of carbohydrates</text>
<rect x="23.30" y="601.55" width="30.29" height="3.50" fill="#fdf7cc" stroke="#9e9e9e" stroke-width="0.56"/>
<text class="d" transform="translate(144.80 604.59) rotate(0.03)" font-size="3.60" text-anchor="start" fill="#111" stroke="#111" stroke-width="0.10">R-HSA-168898: Toll-like Receptor Cascades</text>
<rect x="23.30" y="605.95" width="25.98" height="3.50" fill="#fdf7cc" stroke="#9e9e9e" stroke-width="0.56"/>
<text class="d" transform="translate(144.80 608.99) rotate(0.03)" font-size="3.60" text-anchor="start" fill="#111" stroke="#111" stroke-width="0.10">R-HSA-9007101: Rab regulation of trafficking</text>
<rect x="23.30" y="610.35" width="17.36" height="3.50" fill="#fdf7cc" stroke="#9e9e9e" stroke-width="0.56"/>
<text class="d" transform="translate(144.80 613.39) rotate(0.03)" font-size="3.60" text-anchor="start" fill="#111" stroke="#111" stroke-width="0.10">R-HSA-556833: Metabolism of lipids</text>
<rect x="23.30" y="614.75" width="16.89" height="3.50" fill="#fdf7cc" stroke="#9e9e9e" stroke-width="0.56"/>
<text class="d" transform="translate(144.80 617.79) rotate(0.03)" font-size="3.60" text-anchor="start" fill="#111" stroke="#111" stroke-width="0.10">R-HSA-2132295: MHC class II antigen presentation</text>
<rect x="23.30" y="619.15" width="15.49" height="3.50" fill="#fdf7cc" stroke="#9e9e9e" stroke-width="0.56"/>
<text class="d" transform="translate(144.80 622.19) rotate(0.03)" font-size="3.60" text-anchor="start" fill="#111" stroke="#111" stroke-width="0.10">R-HSA-1632852: Macroautophagy</text>
<rect x="23.30" y="520.20" width="120.10" height="104.70" fill="none" stroke="#3a3a3a" stroke-width="0.79"/>
<line x1="23.30" y1="624.90" x2="23.30" y2="626.10" stroke="#222" stroke-width="0.36"/>
<text class="d" transform="translate(23.30 630.50) rotate(0.03)" font-size="3.60" text-anchor="middle" fill="#222" stroke="#222" stroke-width="0.10">0</text>
<line x1="46.60" y1="624.90" x2="46.60" y2="626.10" stroke="#222" stroke-width="0.36"/>
<text class="d" transform="translate(46.60 630.50) rotate(0.03)" font-size="3.60" text-anchor="middle" fill="#222" stroke="#222" stroke-width="0.10">2</text>
<line x1="69.90" y1="624.90" x2="69.90" y2="626.10" stroke="#222" stroke-width="0.36"/>
<text class="d" transform="translate(69.90 630.50) rotate(0.03)" font-size="3.60" text-anchor="middle" fill="#222" stroke="#222" stroke-width="0.10">4</text>
<line x1="93.20" y1="624.90" x2="93.20" y2="626.10" stroke="#222" stroke-width="0.36"/>
<text class="d" transform="translate(93.20 630.50) rotate(0.03)" font-size="3.60" text-anchor="middle" fill="#222" stroke="#222" stroke-width="0.10">6</text>
<line x1="116.50" y1="624.90" x2="116.50" y2="626.10" stroke="#222" stroke-width="0.36"/>
<text class="d" transform="translate(116.50 630.50) rotate(0.03)" font-size="3.60" text-anchor="middle" fill="#222" stroke="#222" stroke-width="0.10">8</text>
<line x1="139.80" y1="624.90" x2="139.80" y2="626.10" stroke="#222" stroke-width="0.36"/>
<text class="d" transform="translate(139.80 630.50) rotate(0.03)" font-size="3.60" text-anchor="middle" fill="#222" stroke="#222" stroke-width="0.10">10</text>
<text class="d" transform="translate(83.80 635.60) rotate(0.03)" font-size="3.60" text-anchor="middle" fill="#222" stroke="#222" stroke-width="0.10">-log10(P)</text>
<rect x="408.00" y="522.00" width="163.90" height="97.80" fill="#fff"/>
<line x1="448.20" y1="522.00" x2="448.20" y2="619.80" stroke="#bcbcbc" stroke-width="0.60"/>
<line x1="488.40" y1="522.00" x2="488.40" y2="619.80" stroke="#bcbcbc" stroke-width="0.60"/>
<line x1="528.60" y1="522.00" x2="528.60" y2="619.80" stroke="#bcbcbc" stroke-width="0.60"/>
<rect x="408.00" y="526.30" width="156.58" height="4.85" fill="#f4993e" stroke="#9e9e9e" stroke-width="0.75"/>
<text class="d" transform="translate(574.80 530.49) rotate(0.03)" font-size="4.90" text-anchor="start" fill="#111" stroke="#111" stroke-width="0.10">hsa05200: Pathways in cancer</text>
<rect x="408.00" y="532.41" width="113.36" height="4.85" fill="#fbc25b" stroke="#9e9e9e" stroke-width="0.75"/>
<text class="d" transform="translate(574.80 536.60) rotate(0.03)" font-size="4.90" text-anchor="start" fill="#111" stroke="#111" stroke-width="0.10">hsa05132: Salmonella infection</text>
<rect x="408.00" y="538.52" width="111.96" height="4.85" fill="#fbc25b" stroke="#9e9e9e" stroke-width="0.75"/>
<text class="d" transform="translate(574.80 542.71) rotate(0.03)" font-size="4.90" text-anchor="start" fill="#111" stroke="#111" stroke-width="0.10">hsa05340: Primary immunodeficiency</text>
<rect x="408.00" y="544.63" width="111.35" height="4.85" fill="#fbc25b" stroke="#9e9e9e" stroke-width="0.75"/>
<text class="d" transform="translate(574.80 548.82) rotate(0.03)" font-size="4.90" text-anchor="start" fill="#111" stroke="#111" stroke-width="0.10">hsa04514: Cell adhesion molecules</text>
<rect x="408.00" y="550.74" width="95.07" height="4.85" fill="#fbc25b" stroke="#9e9e9e" stroke-width="0.75"/>
<text class="d" transform="translate(574.80 554.93) rotate(0.03)" font-size="4.90" text-anchor="start" fill="#111" stroke="#111" stroke-width="0.10">hsa04144: Endocytosis</text>
<rect x="408.00" y="556.85" width="91.66" height="4.85" fill="#fbc25b" stroke="#9e9e9e" stroke-width="0.75"/>
<text class="d" transform="translate(574.80 561.04) rotate(0.03)" font-size="4.90" text-anchor="start" fill="#111" stroke="#111" stroke-width="0.10">hsa05415: Diabetic cardiomyopathy</text>
<rect x="408.00" y="562.96" width="81.00" height="4.85" fill="#fbc25b" stroke="#9e9e9e" stroke-width="0.75"/>
<text class="d" transform="translate(574.80 567.15) rotate(0.03)" font-size="4.90" text-anchor="start" fill="#111" stroke="#111" stroke-width="0.10">hsa04611: Platelet activation</text>
<rect x="408.00" y="569.07" width="74.97" height="4.85" fill="#fddf8d" stroke="#9e9e9e" stroke-width="0.75"/>
<text class="d" transform="translate(574.80 573.26) rotate(0.03)" font-size="4.90" text-anchor="start" fill="#111" stroke="#111" stroke-width="0.10">hsa05235: PD-L1 expression and PD-1 checkpoint pathway in cancer</text>
<rect x="408.00" y="575.18" width="67.13" height="4.85" fill="#fddf8d" stroke="#9e9e9e" stroke-width="0.75"/>
<text class="d" transform="translate(574.80 579.37) rotate(0.03)" font-size="4.90" text-anchor="start" fill="#111" stroke="#111" stroke-width="0.10">hsa05171: Coronavirus disease - COVID-19</text>
<rect x="408.00" y="581.29" width="62.91" height="4.85" fill="#fddf8d" stroke="#9e9e9e" stroke-width="0.75"/>
<text class="d" transform="translate(574.80 585.48) rotate(0.03)" font-size="4.90" text-anchor="start" fill="#111" stroke="#111" stroke-width="0.10">hsa00030: Pentose phosphate pathway</text>
<rect x="408.00" y="587.40" width="59.30" height="4.85" fill="#fdf7cc" stroke="#9e9e9e" stroke-width="0.75"/>
<text class="d" transform="translate(574.80 591.59) rotate(0.03)" font-size="4.90" text-anchor="start" fill="#111" stroke="#111" stroke-width="0.10">hsa05412: Arrhythmogenic right ventricular cardiomyopathy</text>
<rect x="408.00" y="593.51" width="51.86" height="4.85" fill="#fdf7cc" stroke="#9e9e9e" stroke-width="0.75"/>
<text class="d" transform="translate(574.80 597.70) rotate(0.03)" font-size="4.90" text-anchor="start" fill="#111" stroke="#111" stroke-width="0.10">hsa05161: Hepatitis B</text>
<rect x="408.00" y="599.62" width="49.45" height="4.85" fill="#fdf7cc" stroke="#9e9e9e" stroke-width="0.75"/>
<text class="d" transform="translate(574.80 603.81) rotate(0.03)" font-size="4.90" text-anchor="start" fill="#111" stroke="#111" stroke-width="0.10">hsa04141: Protein processing in endoplasmic reticulum</text>
<rect x="408.00" y="605.73" width="42.81" height="4.85" fill="#fdf7cc" stroke="#9e9e9e" stroke-width="0.75"/>
<text class="d" transform="translate(574.80 609.92) rotate(0.03)" font-size="4.90" text-anchor="start" fill="#111" stroke="#111" stroke-width="0.10">hsa04068: FoxO signaling pathway</text>
<rect x="408.00" y="611.84" width="27.34" height="4.85" fill="#fdf7cc" stroke="#9e9e9e" stroke-width="0.75"/>
<text class="d" transform="translate(574.80 616.03) rotate(0.03)" font-size="4.90" text-anchor="start" fill="#111" stroke="#111" stroke-width="0.10">hsa04142: Lysosome</text>
<rect x="408.00" y="522.00" width="163.90" height="97.80" fill="none" stroke="#3a3a3a" stroke-width="1.05"/>
<line x1="408.00" y1="619.80" x2="408.00" y2="621.00" stroke="#222" stroke-width="0.48"/>
<text class="d" transform="translate(408.00 627.80) rotate(0.03)" font-size="4.90" text-anchor="middle" fill="#222" stroke="#222" stroke-width="0.10">0</text>
<line x1="428.10" y1="619.80" x2="428.10" y2="621.00" stroke="#222" stroke-width="0.48"/>
<text class="d" transform="translate(428.10 627.80) rotate(0.03)" font-size="4.90" text-anchor="middle" fill="#222" stroke="#222" stroke-width="0.10">1</text>
<line x1="448.20" y1="619.80" x2="448.20" y2="621.00" stroke="#222" stroke-width="0.48"/>
<text class="d" transform="translate(448.20 627.80) rotate(0.03)" font-size="4.90" text-anchor="middle" fill="#222" stroke="#222" stroke-width="0.10">2</text>
<line x1="468.30" y1="619.80" x2="468.30" y2="621.00" stroke="#222" stroke-width="0.48"/>
<text class="d" transform="translate(468.30 627.80) rotate(0.03)" font-size="4.90" text-anchor="middle" fill="#222" stroke="#222" stroke-width="0.10">3</text>
<line x1="488.40" y1="619.80" x2="488.40" y2="621.00" stroke="#222" stroke-width="0.48"/>
<text class="d" transform="translate(488.40 627.80) rotate(0.03)" font-size="4.90" text-anchor="middle" fill="#222" stroke="#222" stroke-width="0.10">4</text>
<line x1="508.50" y1="619.80" x2="508.50" y2="621.00" stroke="#222" stroke-width="0.48"/>
<text class="d" transform="translate(508.50 627.80) rotate(0.03)" font-size="4.90" text-anchor="middle" fill="#222" stroke="#222" stroke-width="0.10">5</text>
<line x1="528.60" y1="619.80" x2="528.60" y2="621.00" stroke="#222" stroke-width="0.48"/>
<text class="d" transform="translate(528.60 627.80) rotate(0.03)" font-size="4.90" text-anchor="middle" fill="#222" stroke="#222" stroke-width="0.10">6</text>
<line x1="548.70" y1="619.80" x2="548.70" y2="621.00" stroke="#222" stroke-width="0.48"/>
<text class="d" transform="translate(548.70 627.80) rotate(0.03)" font-size="4.90" text-anchor="middle" fill="#222" stroke="#222" stroke-width="0.10">7</text>
<line x1="568.80" y1="619.80" x2="568.80" y2="621.00" stroke="#222" stroke-width="0.48"/>
<text class="d" transform="translate(568.80 627.80) rotate(0.03)" font-size="4.90" text-anchor="middle" fill="#222" stroke="#222" stroke-width="0.10">8</text>
<text class="d" transform="translate(490.80 634.00) rotate(0.03)" font-size="4.90" text-anchor="middle" fill="#222" stroke="#222" stroke-width="0.10">-log10(P)</text>
</svg>
</body></html>
